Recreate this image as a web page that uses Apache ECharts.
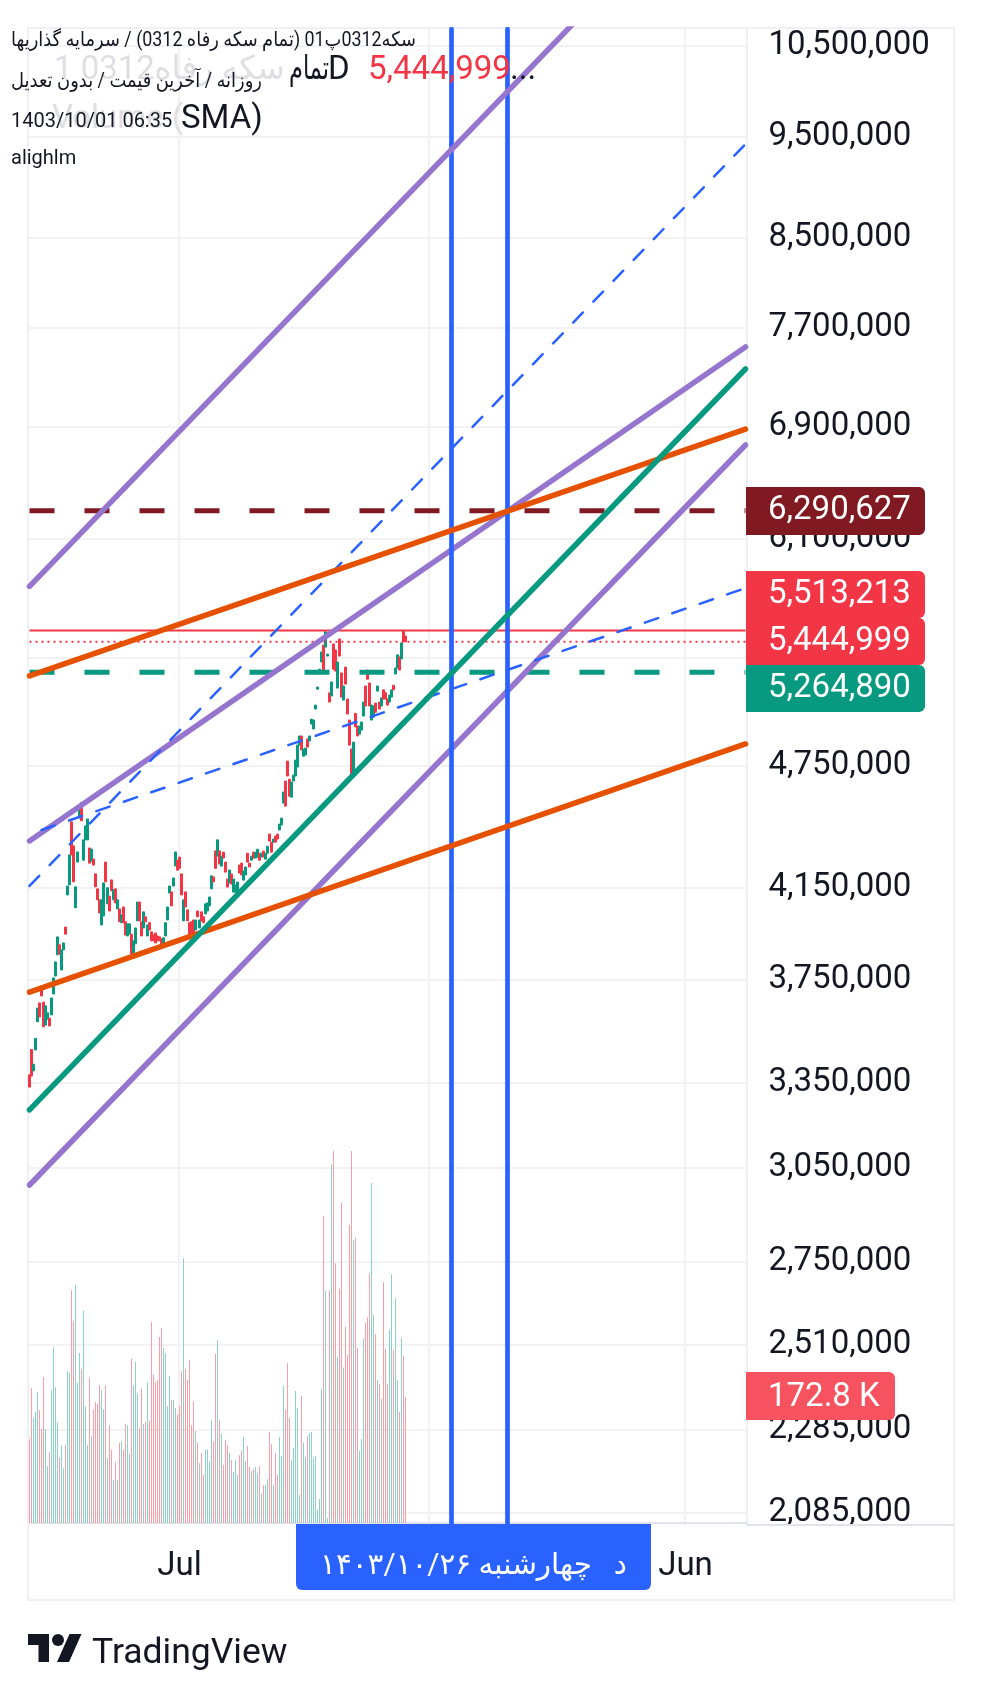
<!DOCTYPE html>
<html>
<head>
<meta charset="utf-8">
<title>TradingView</title>
<script src="https://cdn.jsdelivr.net/npm/echarts@6/dist/echarts.min.js"></script>
<style>
  html, body { margin: 0; padding: 0; background: #fff; }
  #main { width: 983px; height: 1697px; }
</style>
</head>
<body>
<div id="main"></div>
<script>
// daily candles, thousands
var candleOpen = [
  3378,3474,3393,3472,3582,3657,3726,3660,3569,3592,
  3596,3609,3693,3767,3856,3899,3792,3877,3976,4119,
  4165,4465,4348,4061,4271,4484,4561,4280,4377,4377,
  4338,4275,4285,4216,4147,4097,3985,4025,4271,4079,
  4114,4188,4097,4147,4056,4056,3995,4065,3999,3937,
  3945,3945,3865,3903,4003,4087,3999,3972,4021,3937,
  3995,3955,3941,3950,3937,3933,3924,3894,3937,4007,
  4128,4133,4160,4253,4280,4295,4216,4003,4133,4052,
  3995,3999,4007,3963,4047,3972,4043,4021,4034,4047,
  4070,4147,4202,4324,4300,4324,4252,4318,4271,4192,
  4174,4215,4132,4132,4137,4257,4266,4187,4211,4313,
  4266,4280,4318,4290,4295,4313,4295,4323,4285,4313,
  4405,4366,4366,4395,4405,4425,4449,4558,4670,4774,
  4680,4588,4670,4696,4743,4859,4908,4800,4806,4892,
  4881,4973,4946,5056,5168,5266,5325,5425,5413,5360,
  5147,5129,5432,5396,5174,5462,5261,5106,5295,5112,
  4995,4838,4701,5032,4962,4918,4940,5017,5186,5278,
  5203,4995,5011,5089,5157,5095,5073,5164,5147,5112,
  5095,5123,5190,5255,5290,5355,5343,5513,5480
];
var candleClose = [
  3333,3374,3418,3517,3636,3601,3685,3562,3645,3617,
  3565,3677,3759,3826,3933,3859,3877,3907,3945,4160,
  4305,4305,4179,4156,4319,4534,4470,4377,4445,4479,
  4266,4333,4257,4156,4097,4038,4097,4174,4179,4152,
  4047,4138,4143,4083,4097,3999,4030,3995,3941,3990,
  3990,3860,3916,3972,4087,4003,3937,4043,3999,3985,
  3963,3916,3916,3907,3916,3916,3894,3929,3995,4065,
  4160,4070,4197,4319,4233,4242,4119,4097,4065,4003,
  3941,3937,3924,4007,4021,4007,4003,3995,4079,4083,
  4110,4207,4179,4242,4377,4262,4299,4290,4224,4155,
  4234,4169,4192,4164,4178,4220,4211,4229,4248,4271,
  4248,4299,4290,4318,4332,4280,4313,4295,4313,4346,
  4371,4318,4381,4366,4381,4454,4483,4614,4543,4696,
  4593,4665,4701,4779,4859,4908,4833,4838,4843,4848,
  4908,5000,4995,5078,5180,5283,5384,5272,5505,5372,
  5095,5209,5283,5272,5325,5360,5123,5186,5197,5028,
  4859,4685,4875,4957,4908,4962,4984,5095,5073,5225,
  5073,5078,5073,5038,5186,5056,5118,5112,5112,5078,
  5134,5164,5164,5290,5367,5278,5438,5445,5445
];
// volume, thousands
var volumes = [
  115,185,144,152,180,155,129,200,129,78,
  97,182,241,186,138,90,106,75,107,208,
  206,319,277,326,192,233,211,291,160,107,
  199,119,156,166,163,189,182,156,189,89,
  134,100,59,84,59,110,112,100,136,
  134,95,226,189,221,178,130,184,136,138,
  193,140,276,204,193,196,255,267,240,233,
  160,202,169,169,158,149,160,208,363,211,
  196,223,134,167,126,110,82,96,66,100,
  101,84,141,112,232,251,
  141,123,80,114,107,96,86,70,86,66,
  93,99,118,85,106,77,71,74,77,69,
  78,40,52,52,60,125,108,52,96,66,
  118,92,188,156,219,144,86,103,181,158,
  38,174,110,90,119,123,125,89,92,18,
  33,184,421,318,7,319,491,510,356,228,
  321,439,213,269,230,409,510,388,391,240,
  99,115,252,274,282,343,466,285,259,196,
  191,170,330,239,191,265,341,237,308,196,
  152,254,229,172.8
];
var barCount = 359;   // includes the empty future bars
var monthTickIndex = [75, 200, 328];
var monthTickText = ['Jul', '', 'Jun'];
var priceTicks = [10500000,9500000,8500000,7700000,6900000,6100000,5350000,4750000,4150000,3750000,3350000,3050000,2750000,2510000,2285000,2085000];

// drawings: [barIndex, price] pairs
var purpleLines = [
  [[0, 4372000], [358, 7536000]],
  [[0, 2992000], [358, 6764000]]
];
var purpleTop = [[0, 5788000], [358, 13100000]];   // this one sits above the blue verticals
var greenTrend = [[0, 3250000], [358, 7355000]];
var orangeLines = [
  [[0, 5244000], [358, 6884000]],
  [[0, 3701000], [358, 4865000]]
];
var blueDashLines = [
  [[0, 4160000], [358, 9425000]],
  [[6, 4425000], [358, 5777000]]
];
var blueVerticals = [211, 239];
var darkRedLevel = 6290627;
var greenLevel = 5264890;
var highLevel = 5513213;
var lastLevel = 5444999;

var priceMin = 2056800, priceMax = 10699000;
var RED = '#f23645', GREEN = '#089981', TEXT = '#131722', GRID = '#f2f2f4';
var FONT = 'Roboto, "DejaVu Sans", sans-serif';

var categories = [];
for (var i = 0; i < barCount; i++) {
  var t = monthTickIndex.indexOf(i);
  categories.push(t >= 0 ? monthTickText[t] : '');
}
var candles = candleOpen.map(function (o, i) {
  var c = candleClose[i];
  return [o * 1000, c * 1000, Math.min(o, c) * 1000, Math.max(o, c) * 1000];
});
var volumeBars = volumes.map(function (v, i) {
  return { value: v, itemStyle: { color: candleClose[i] >= candleOpen[i] ? '#8ad3c6' : '#fa9fa8' } };
});

function onMonthTick(index) {
  return monthTickIndex.indexOf(index) >= 0;
}
function drawing(points, color, width, type) {
  return {
    type: 'line', data: points, xAxisIndex: 0, yAxisIndex: 0, silent: true,
    showSymbol: false, symbol: 'none', animation: false, z: 5,
    lineStyle: { color: color, width: width, type: type || 'solid', cap: 'round' }
  };
}
function level(value, color, width, type, from) {
  var s = drawing([[from || 0, value], [barCount - 1, value]], color, width, type);
  s.lineStyle.cap = 'butt';
  return s;
}

var series = [
  { type: 'bar', data: volumeBars, xAxisIndex: 0, yAxisIndex: 1, barWidth: 1, silent: true, z: 2 },
  {
    type: 'candlestick', data: candles, xAxisIndex: 0, yAxisIndex: 0, barWidth: 2, silent: true, z: 3,
    itemStyle: { color: GREEN, color0: RED, borderColor: GREEN, borderColor0: RED, borderWidth: 1 }
  }
];
// drawing order matters where the lines cross
series.push(level(highLevel, RED, 2));
series.push(level(lastLevel, RED, 2, [2, 4]));
series.push(level(darkRedLevel, '#801922', 5, [25, 30]));
series.push(level(greenLevel, GREEN, 5, [25, 30]));
purpleLines.forEach(function (p) { series.push(drawing(p, '#9575cd', 5.5)); });
blueDashLines.forEach(function (p) { series.push(drawing(p, '#2962ff', 2.5, [14, 15])); });
blueVerticals.forEach(function (idx) {
  series.push(drawing([[idx, priceMin], [idx, priceMax]], '#2962ff', 4.7));
});
series.push(drawing(purpleTop, '#9575cd', 5.5));
orangeLines.forEach(function (p) { series.push(drawing(p, '#e65100', 5.5)); });
series.push(drawing(greenTrend, GREEN, 5.5));

function tag(y1, y2, color, text) {
  return [
    { type: 'rect', z: 100, shape: { x: 746, y: y1, width: 179, height: y2 - y1, r: [0, 6, 6, 0] }, style: { fill: color } },
    { type: 'text', z: 101, style: { x: 768, y: (y1 + y2) / 2, text: text, fill: '#fff', font: '33px ' + FONT, textVerticalAlign: 'middle' } }
  ];
}
function label(x, y, text, color, size, align) {
  return { type: 'text', z: 90, style: { x: x, y: y, text: text, fill: color, font: size + 'px ' + FONT, textAlign: align || 'left', textVerticalAlign: 'middle' } };
}
// persian glyphs come out wider here, squeeze them to the width they have on the chart
var measureCtx = document.createElement('canvas').getContext('2d');
function squeezed(x, y, text, color, size, width) {
  measureCtx.font = size + 'px ' + FONT;
  var el = label(0, 0, text, color, size);
  el.x = x;
  el.y = y;
  el.scaleX = width / measureCtx.measureText(text).width;
  return el;
}

var graphics = [
  { type: 'rect', z: 1, shape: { x: 28, y: 28, width: 926, height: 1572 }, style: { fill: null, stroke: '#eff0f5', lineWidth: 2 } },
  { type: 'line', z: 1, shape: { x1: 746, y1: 1525, x2: 954, y2: 1525 }, style: { stroke: '#e0e3eb', lineWidth: 2 } }
];
graphics.push(label(54, 71, '1 0312', '#dfdfe3', 33));
graphics.push(label(285, 71, 'سکه رفاه', '#dfdfe3', 33, 'right'));
graphics.push(label(52, 120, 'Volume (', '#dfdfe3', 33));
graphics.push(squeezed(289, 71, 'تمام', TEXT, 33, 40));
graphics.push(label(328, 71, 'D', TEXT, 33));
graphics.push(label(368, 71, '5,444,999', RED, 33));
graphics.push(label(510, 71, '...', TEXT, 33));
graphics.push(label(181, 120, 'SMA)', TEXT, 33));
graphics.push(squeezed(11, 41, 'سکه0312پ01 (تمام سکه رفاه 0312) / سرمایه گذاریها', TEXT, 20, 405));
graphics.push(squeezed(11, 82, 'روزانه / آخرین قیمت / بدون تعدیل', TEXT, 20, 251));
graphics.push(label(11, 122, '1403/10/01 06:35', TEXT, 20));
graphics.push(label(11, 159, 'alighlm', TEXT, 20));
graphics = graphics
  .concat(tag(487, 535, '#801922', '6,290,627'))
  .concat(tag(571, 618, RED, '5,513,213'))
  .concat(tag(618, 665, RED, '5,444,999'))
  .concat(tag(665, 712, GREEN, '5,264,890'));
graphics.push({ type: 'rect', z: 100, shape: { x: 746, y: 1372, width: 149, height: 48, r: [0, 6, 6, 0] }, style: { fill: '#f7525f' } });
graphics.push({ type: 'text', z: 101, style: { x: 768, y: 1398, text: '172.8 K', fill: '#fff', font: '33px ' + FONT, textVerticalAlign: 'middle' } });
graphics.push({ type: 'rect', z: 100, shape: { x: 296, y: 1524, width: 355, height: 66, r: [0, 0, 6, 6] }, style: { fill: '#2962ff' } });
graphics.push({ type: 'text', z: 101, style: { x: 627, y: 1567, text: 'د   چهارشنبه ۱۴۰۳/۱۰/۲۶', fill: '#fff', font: '29.5px ' + FONT, textAlign: 'right', textVerticalAlign: 'middle' } });
// logo
graphics.push({ type: 'polygon', z: 100, shape: { points: [[28, 1634], [49, 1634], [49, 1662], [38.5, 1662], [38.5, 1645], [28, 1645]] }, style: { fill: TEXT } });
graphics.push({ type: 'polygon', z: 100, shape: { points: [[69.5, 1634], [81.5, 1634], [69, 1662], [57, 1662]] }, style: { fill: TEXT } });
graphics.push({ type: 'circle', z: 100, shape: { cx: 58, cy: 1640, r: 6 }, style: { fill: TEXT } });
graphics.push(label(92, 1654, 'TradingView', TEXT, 35.5));

var chart = echarts.init(document.getElementById('main'), null, { renderer: 'canvas', width: 983, height: 1697 });
chart.setOption({
  animation: false,
  backgroundColor: '#fff',
  grid: { left: 28.5, top: 29, width: 718, height: 1496, outerBoundsMode: 'none' },
  xAxis: {
    type: 'category', data: categories, boundaryGap: true,
    axisLine: { show: true, lineStyle: { color: '#e0e3eb', width: 2 } },
    axisTick: { show: false },
    axisLabel: { interval: function (i) { return onMonthTick(i); }, color: TEXT, fontSize: 33, fontFamily: FONT, margin: 25, hideOverlap: false },
    splitLine: { show: true, interval: function (i) { return onMonthTick(i); }, lineStyle: { color: GRID, width: 2 } }
  },
  yAxis: [
    {
      type: 'log', position: 'right', min: priceMin, max: priceMax, logBase: 10,
      axisLine: { show: true, onZero: false, lineStyle: { color: '#eff0f5', width: 2 } },
      axisTick: { show: false, customValues: priceTicks },
      axisLabel: {
        customValues: priceTicks, color: TEXT, fontSize: 33, fontFamily: FONT, margin: 22, align: 'left', showMinLabel: true, showMaxLabel: true,
        formatter: function (v) { return Math.round(v).toLocaleString('en-US'); }
      },
      splitLine: { show: true, lineStyle: { color: GRID, width: 2 } }
    },
    {
      type: 'value', min: -2.74, max: 2048, show: false, splitLine: { show: false }
    }
  ],
  graphic: graphics,
  series: series
});
</script>
</body>
</html>
